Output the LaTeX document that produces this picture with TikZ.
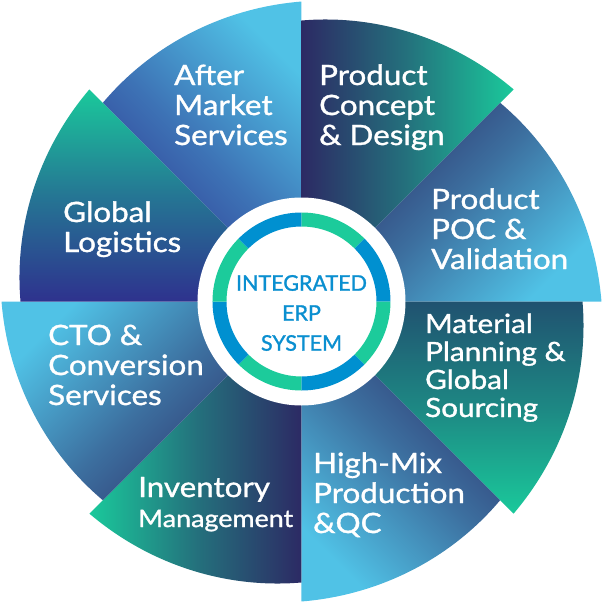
\documentclass[tikz,border=0pt]{standalone}
\usepackage{fontspec}
\setmainfont{Lato}[FakeStretch=1.12, FakeBold=1.2]
\newfontfamily\hubfont{Lato}[FakeBold=1.2]

\definecolor{skyblue}{RGB}{80,194,230}
\definecolor{deepnavy}{RGB}{44,42,100}
\definecolor{indigo}{RGB}{46,50,142}
\definecolor{seagreen}{RGB}{26,201,155}
\definecolor{deepteal}{RGB}{32,82,112}
\definecolor{ringgreen}{RGB}{28,203,155}
\definecolor{ringblue}{RGB}{0,144,208}
\definecolor{erpblue}{RGB}{10,143,208}

\tikzset{
  wheeltext/.style={text=white, align=left, anchor=base west, inner sep=0pt,
    font=\fontsize{28}{30}\selectfont},
}

\begin{document}
\begin{tikzpicture}[x=1pt,y=1pt]
	\useasboundingbox (-301.5,-301.5) rectangle (301.5,301.5);
	% eight wedges, each a little longer at its clockwise edge
	\foreach \a/\dk/\lt in {135/indigo/skyblue, 90/deepnavy/seagreen, 45/deepnavy/skyblue, 0/deepteal/seagreen,
		-45/deepnavy/skyblue, -90/deepnavy/seagreen, -135/deepnavy/skyblue, 180/indigo/seagreen}
	{
		\pgfmathsetmacro{\sang}{\a-180}
		\shade[top color=\lt, bottom color=\dk, middle color=\dk!55!\lt, shading angle=\sang]
			(0,0) -- plot[domain=\a:\a-45, samples=40] (\x:{281+19*(\a-\x)/45}) -- cycle;
	}
	% hub
	\fill[white] (0,0) circle[radius=104];
	\foreach \a/\c in {90/ringgreen, 45/ringblue, 0/ringgreen, -45/ringblue,
		-90/ringgreen, -135/ringblue, 180/ringgreen, 135/ringblue}
		\fill[\c] (\a:89) arc[start angle=\a, end angle=\a-45, radius=89]
			-- ({\a-45}:75) arc[start angle=\a-45, end angle=\a, radius=75] -- cycle;
	\node[text=erpblue, align=center, font=\hubfont\fontsize{21.5}{30}\selectfont] (erp) at (0,-11.5) {INTEGRATED\\ERP\\SYSTEM};
	% wedge labels (placed at the baseline of their last line)
	\node[wheeltext] (after) at (-127.5,156.5) {After\\Market\\Services};
	\node[wheeltext] (concept) at (17.5,156.5) {Product\\Concept\\\& Design};
	\node[wheeltext] (poc) at (129.5,32.5) {Product\\POC \&\\Validation};
	\node[wheeltext, font=\fontsize{26.5}{28}\selectfont] (material) at (123.5,-115.5) {Material\\Planning \&\\Global\\Sourcing};
	\node[wheeltext] (highmix) at (11.5,-231.5) {High-Mix\\Production\\\&QC};
	\node[wheeltext] (inventory) at (-163.5,-225.5) {Inventory\\{\fontsize{24}{29}\selectfont Management}};
	\node[wheeltext] (cto) at (-253.5,-103.5) {CTO \&\\Conversion\\Services};
	\node[wheeltext] (global) at (-238.5,49.5) {Global\\Logistics};
\end{tikzpicture}
\end{document}
